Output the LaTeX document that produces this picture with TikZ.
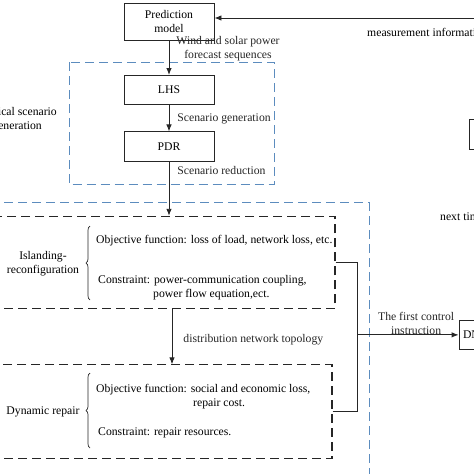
\documentclass[tikz,border=0pt]{standalone}
\usepackage{fontspec}
\setmainfont{Liberation Serif}
\usetikzlibrary{arrows.meta,decorations.pathreplacing}
\pgfdeclarelayer{background}
\pgfsetlayers{background,main}
\definecolor{azul}{RGB}{92,140,190}
\tikzstyle{bloque}=[draw=black!85, line width=0.9pt, align=center,
  minimum width=90pt, inner sep=2pt]
\tikzstyle{etapa}=[draw=black!85, line width=1.1pt, dash pattern=on 9pt off 5pt]
\tikzstyle{marco}=[draw=azul, line width=1pt, dash pattern=on 9pt off 5pt]
\tikzstyle{texto}=[inner sep=0pt, align=left]
\tikzstyle{line}=[draw, line width=0.9pt, color=black!85,
  -{Latex[length=7pt,width=5.5pt]}]
\tikzstyle{union}=[draw, line width=0.9pt, color=black!85]
\tikzstyle{llave}=[draw=black!85, line width=0.7pt, decorate,
  decoration={brace, amplitude=4pt}]
\newcommand{\bloque}[3]{node (p#1) [bloque, minimum height=#3] {#2}}
\newcommand{\etapa}[3]{node (p#1) [etapa, minimum width=#2, minimum height=#3] {}}
\newcommand{\marco}[4]{%
  \begin{pgfonlayer}{background}
    % Upper-left corner of the dashed frame
    \path (#1)+(#2) coordinate (a1);
    % Lower-right corner of the dashed frame
    \path (#3)+(#4) coordinate (a2);
    \path [marco] (a1) rectangle (a2);
  \end{pgfonlayer}}

\begin{document}
\begin{tikzpicture}[x=1pt, y=-1pt, font=\fontsize{11.7}{14}\selectfont]
\useasboundingbox (0,0) rectangle (474,474);
\clip (0,0) rectangle (474,474);

% Draw diagram elements
\path (169,21.5)            \bloque{1}{Prediction\\model}{37pt};
\path (p1.south)+(0,49.5)   \bloque{2}{LHS}{29pt};
\path (p2.south)+(0,42)     \bloque{3}{PDR}{30pt};
\path (p3.south)+(-6.5,100) \etapa{4}{345pt}{92pt};
\path (p4.south)+(-1.5,103) \etapa{5}{342pt}{94pt};
\path (p4.east)+(133,-128) node (p6) [bloque, anchor=west, minimum width=30pt,
  minimum height=30pt] {};
\path (p4.east)+(123,72.5) node (p7) [bloque, anchor=west, minimum width=0pt,
  inner sep=4pt, minimum height=29pt] {DN};

% Text inside the two stages
\node [texto, align=center] (i1) at (43,263.5) {Islanding-\\reconfiguration};
\node [texto, anchor=west] (t1) at (96,241)
  {Objective function: loss of load, network loss, etc.};
\node [texto, anchor=west] (t2) at (98,287.5)
  {Constraint: power-communication coupling,\\\hspace*{55pt}power flow equation,ect.};
\node [texto] (i2) at (43,412) {Dynamic repair};
\node [texto, anchor=west] (t3) at (96,397)
  {Objective function: social and economic loss,\\\hspace*{97pt}repair cost.};
\node [texto, anchor=west] (t4) at (98,433) {Constraint: repair resources.};
\draw [llave] (90,300) -- (90,226);
\draw [llave] (90,448) -- (90,373);

% Outer labels
\node [texto, align=right, anchor=east] (g1) at (57,120)
  {Typical scenario\\generation\hspace*{15pt}};
\node [texto, anchor=west] (m1) at (367,32) {measurement information};
\node [texto, anchor=west] (n1) at (440,217) {next time};

% Draw arrows between elements
\coordinate (ct) at (500,18);
\path [line] (ct) -- (ct -| p1.east);
\path [line] (p1.south) -- node [pos=0.24, right=7pt, texto, align=center]
  {Wind and solar power\\forecast sequences} (p2.north);
\path [line] (p2.south) -- node [pos=0.52, right=8pt, texto]
  {Scenario generation} (p3.north);
\path [line] (p3.south) -- node [pos=0.15, right=8pt, texto]
  {Scenario reduction} (p3.south |- p4.north);
\path (p4.south)+(9.5,0) coordinate (c4);
\path [line] (c4) -- node [pos=0.55, right=11pt, texto]
  {distribution network topology} (c4 |- p5.north);
\path (p4.east)+(22,72.5) coordinate (jn);
\path [union] (p4.east) -| (jn);
\path [union] (p5.east) -| (jn);
\path [line] (jn) -- node [above, pos=0.58, texto, align=center]
  {The first control\\instruction} (p7.west);

\marco{p2.north}{-100,-13}{p3.south}{105,22}
\marco{p4.north}{-180,-13}{p5.south}{208,16}
\end{tikzpicture}
\end{document}
